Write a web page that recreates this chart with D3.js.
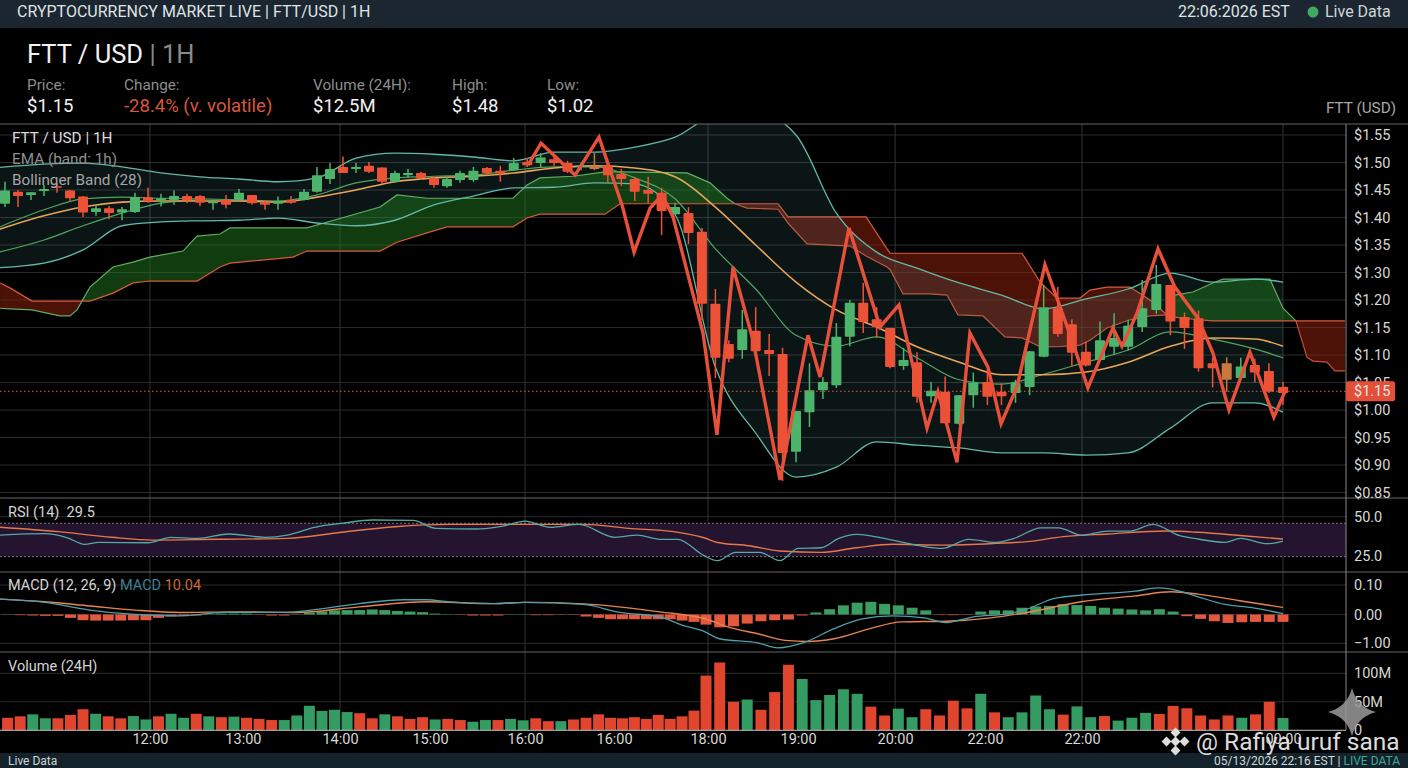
<!DOCTYPE html>
<html>
<head>
<meta charset="utf-8">
<title>FTT / USD</title>
<script src="https://cdn.jsdelivr.net/npm/d3@7"></script>
<style>
    html, body { margin: 0; padding: 0; background: #000; }
    svg { display: block; font-family: Roboto, sans-serif; }
    .axis path { display: none; }
    .axis line { display: none; }
    .axis text { fill: #d8d8d8; font-family: Roboto, sans-serif; font-size: 14.5px; }
</style>
</head>
<body>
<svg id="chart" width="1408" height="768"></svg>
<script>
// price axis skips 1.25, the labels are evenly spaced all the same
var priceTicks = [1.55, 1.50, 1.45, 1.40, 1.35, 1.30, 1.20, 1.15, 1.10, 1.05, 1.00, 0.95, 0.90, 0.85];
var rsiTicks = [50, 25];
var rsiBand = [45.8, 24.4];
var macdTicks = [0.10, 0, -1];
var volumeTicks = [100, 50, 0];
var timeLabels = ['12:00', '13:00', '14:00', '15:00', '16:00', '16:00', '18:00', '19:00', '20:00', '22:00', '22:00', '00:00'];
var timeSlots = [11.15, 18.3, 25.77, 32.69, 39.84, 46.46, 53.45, 60.15, 67.37, 73.83, 80.72, 95];
var gridSlots = [11.15, 25.77, 39.84, 53.45, 67.37, 80.72, 95];

var currentLevel = 1.034;
var currentLabel = '$1.15';

var candleOpens = [1.425, 1.447, 1.441, 1.448, 1.457, 1.449, 1.438, 1.410, 1.417, 1.409,
    1.410, 1.437, 1.431, 1.432, 1.439, 1.439, 1.426, 1.432, 1.432, 1.441,
    1.429, 1.425, 1.432, 1.432, 1.447, 1.470, 1.492, 1.488, 1.494, 1.491,
    1.465, 1.477, 1.481, 1.472, 1.457, 1.468, 1.468, 1.490, 1.485, 1.486,
    1.501, 1.499, 1.506, 1.499, 1.492, 1.494, 1.495, 1.479, 1.470, 1.450,
    1.445, 1.406, 1.408, 1.374, 1.193, 1.120, 1.109, 1.144, 1.109, 1.102,
    0.924, 0.996, 1.036, 1.045, 1.133, 1.195, 1.165, 1.149, 1.080, 1.087,
    1.025, 1.033, 0.975, 1.027, 1.051, 1.033, 1.031, 1.042, 1.097, 1.185,
    1.156, 1.106, 1.091, 1.115, 1.115, 1.151, 1.182, 1.255, 1.169, 1.167,
    1.085, 1.085, 1.058, 1.082, 1.071, 1.042];
var candleCloses = [1.449, 1.439, 1.446, 1.452, 1.454, 1.435, 1.409, 1.417, 1.408, 1.415,
    1.437, 1.429, 1.435, 1.439, 1.431, 1.427, 1.429, 1.423, 1.445, 1.426,
    1.423, 1.429, 1.427, 1.447, 1.477, 1.488, 1.481, 1.492, 1.483, 1.465,
    1.481, 1.481, 1.472, 1.459, 1.470, 1.481, 1.485, 1.481, 1.480, 1.499,
    1.495, 1.509, 1.499, 1.483, 1.495, 1.488, 1.477, 1.470, 1.447, 1.443,
    1.412, 1.419, 1.372, 1.193, 1.095, 1.093, 1.147, 1.107, 1.102, 0.922,
    0.998, 1.036, 1.051, 1.133, 1.195, 1.160, 1.151, 1.078, 1.091, 1.024,
    1.035, 0.976, 1.027, 1.050, 1.024, 1.025, 1.049, 1.107, 1.187, 1.138,
    1.104, 1.081, 1.127, 1.131, 1.153, 1.185, 1.258, 1.161, 1.149, 1.076,
    1.076, 1.055, 1.079, 1.068, 1.033, 1.031];
var candleHighs = [1.465, 1.450, 1.446, 1.459, 1.463, 1.450, 1.439, 1.423, 1.421, 1.419,
    1.445, 1.454, 1.443, 1.449, 1.443, 1.441, 1.432, 1.441, 1.452, 1.441,
    1.432, 1.438, 1.439, 1.452, 1.492, 1.499, 1.511, 1.499, 1.501, 1.491,
    1.485, 1.488, 1.483, 1.474, 1.474, 1.485, 1.492, 1.492, 1.494, 1.508,
    1.508, 1.517, 1.511, 1.503, 1.499, 1.517, 1.499, 1.488, 1.474, 1.474,
    1.454, 1.426, 1.419, 1.381, 1.240, 1.127, 1.182, 1.187, 1.138, 1.113,
    0.998, 1.085, 1.060, 1.158, 1.200, 1.262, 1.187, 1.149, 1.113, 1.105,
    1.051, 1.061, 1.027, 1.068, 1.073, 1.049, 1.055, 1.107, 1.255, 1.247,
    1.165, 1.124, 1.161, 1.176, 1.164, 1.273, 1.314, 1.255, 1.177, 1.181,
    1.095, 1.096, 1.095, 1.093, 1.085, 1.051];
var candleLows = [1.419, 1.419, 1.432, 1.439, 1.445, 1.429, 1.401, 1.403, 1.397, 1.395,
    1.408, 1.427, 1.420, 1.423, 1.426, 1.421, 1.414, 1.417, 1.431, 1.423,
    1.414, 1.414, 1.425, 1.431, 1.445, 1.461, 1.481, 1.481, 1.481, 1.461,
    1.463, 1.472, 1.468, 1.454, 1.454, 1.463, 1.465, 1.477, 1.465, 1.485,
    1.492, 1.492, 1.494, 1.481, 1.486, 1.486, 1.463, 1.457, 1.430, 1.426,
    1.368, 1.405, 1.352, 1.164, 1.058, 1.087, 1.093, 1.096, 1.062, 0.871,
    0.905, 0.969, 1.020, 1.040, 1.116, 1.140, 1.131, 1.076, 1.073, 1.013,
    1.013, 0.976, 0.973, 1.004, 1.009, 1.009, 1.013, 1.027, 1.096, 1.133,
    1.079, 1.079, 1.088, 1.100, 1.108, 1.142, 1.175, 1.136, 1.111, 1.070,
    1.041, 1.033, 1.056, 1.050, 1.031, 1.009];
var amberCandles = [45, 91];

// bollinger, ema and sma are read every third candle
var bandSlots = [-1, 3, 6, 9, 12, 15, 18, 21, 24, 27, 30, 33, 36, 39, 42, 45, 48, 51, 54, 57, 60, 63, 66, 69, 72, 75, 78, 81, 84, 87, 90, 93, 95];
var bandUpper = [1.490, 1.497, 1.499, 1.492, 1.481, 1.474, 1.470, 1.465, 1.472, 1.508, 1.517, 1.515, 1.510, 1.503, 1.519, 1.519, 1.528, 1.546, 1.586, 1.592, 1.550, 1.408, 1.337, 1.308, 1.262, 1.218, 1.184, 1.204, 1.240, 1.298, 1.265, 1.276, 1.265];
var bandLower = [1.308, 1.317, 1.341, 1.385, 1.392, 1.394, 1.395, 1.399, 1.390, 1.385, 1.395, 1.423, 1.439, 1.454, 1.455, 1.463, 1.461, 1.405, 1.078, 0.958, 0.878, 0.896, 0.942, 0.936, 0.931, 0.922, 0.922, 0.918, 0.922, 0.967, 1.013, 1.013, 0.996];
var emaLine = [1.374, 1.403, 1.419, 1.428, 1.430, 1.430, 1.430, 1.428, 1.437, 1.450, 1.465, 1.472, 1.475, 1.481, 1.490, 1.494, 1.490, 1.474, 1.419, 1.350, 1.265, 1.182, 1.151, 1.115, 1.087, 1.064, 1.064, 1.069, 1.087, 1.116, 1.131, 1.129, 1.116];
var smaUpper = [1.377, 1.414, 1.434, 1.437, 1.435, 1.434, 1.432, 1.430, 1.441, 1.463, 1.472, 1.475, 1.477, 1.486, 1.492, 1.492, 1.472, 1.434, 1.343, 1.240, 1.136, 1.116, 1.133, 1.095, 1.055, 1.047, 1.065, 1.087, 1.109, 1.142, 1.129, 1.111, 1.095];
var smaLower = [1.334, 1.359, 1.385, 1.408, 1.426, 1.432];

var cloudSlots = [-0.38, 0.38, 2.08, 4.23, 5, 5.54, 5.92, 6.54, 8.31, 9.85, 11.15, 13.69, 14.77, 16.54, 17.31, 22.15, 23.23, 26.77, 28.85, 30.15, 32.46, 34,
    38.94, 39.99, 40.95, 43.41, 45.79, 46.9, 51.89, 53.6, 54.87, 55.46, 56.35, 58.66, 59.4, 60.82, 64.02, 65.21, 66.77, 67, 67.96,
    69.92, 71.13, 71.91, 73.69, 75.25, 76.46, 77.74, 78.94, 80.58, 81.29, 82.49, 84.13, 85.55, 86.76, 87.32, 88.6, 90.02, 90.73, 94.07, 95, 95.92, 96.7, 97.13, 98.12, 98.69, 99.4];
var cloudSpanA = [1.185, 1.184, 1.182, 1.171, 1.171, 1.182, 1.198, 1.247, 1.310, 1.319, 1.328, 1.339, 1.366, 1.370, 1.381, 1.381, 1.381, 1.405, 1.419, 1.441, 1.435, 1.435,
    1.435, 1.459, 1.472, 1.475, 1.483, 1.483, 1.481, 1.463, 1.435, 1.425, 1.417, 1.415, 1.390, 1.352, 1.348, 1.330, 1.310, 1.305, 1.222,
    1.222, 1.218, 1.173, 1.171, 1.133, 1.131, 1.115, 1.115, 1.118, 1.127, 1.149, 1.164, 1.171, 1.173, 1.218, 1.229, 1.262, 1.276, 1.276, 1.185, 1.162, 1.096, 1.089, 1.087, 1.071, 1.071];
var cloudSpanB = [1.262, 1.244, 1.198, 1.198, 1.198, 1.198, 1.198, 1.198, 1.225, 1.262, 1.269, 1.269, 1.269, 1.310, 1.317, 1.328, 1.339, 1.339, 1.339, 1.355, 1.372, 1.383,
    1.383, 1.399, 1.406, 1.406, 1.406, 1.425, 1.425, 1.425, 1.425, 1.425, 1.425, 1.425, 1.401, 1.401, 1.401, 1.401, 1.343, 1.335, 1.335,
    1.335, 1.335, 1.335, 1.335, 1.335, 1.335, 1.265, 1.207, 1.207, 1.236, 1.247, 1.247, 1.200, 1.173, 1.169, 1.165, 1.162, 1.162, 1.162, 1.162, 1.162, 1.162, 1.162, 1.162, 1.162, 1.162];

var spikeSlots = [40.06, 41.03, 43.56, 45.34, 47.1, 47.95, 49.14, 50.03, 50.85, 53.08, 54.12, 55.31, 56.8, 58.81, 60.89, 61.79, 63.94, 66.25, 67.66, 69.71,
    70.49, 71.84, 72.76, 74.04, 74.97, 76.1, 78.09, 80.01, 81.14, 82.92, 83.56, 84.63, 86.12, 87.32, 88.96, 90.02, 91.16, 92.65, 94.35, 95.28];
var spikePrices = [1.495, 1.535, 1.477, 1.546, 1.419, 1.337, 1.417, 1.441, 1.401, 1.140, 0.955, 1.310, 1.127, 0.873, 1.136, 1.060, 1.381, 1.151, 1.191, 0.967,
    1.033, 0.905, 1.140, 1.078, 0.975, 1.042, 1.314, 1.127, 1.040, 1.149, 1.116, 1.176, 1.343, 1.247, 1.167, 1.104, 1.000, 1.105, 0.987, 1.042];

var rsiSlots = [-0.38, 3.07, 4.8, 6.11, 7.22, 11, 12.74, 14.8, 17.23, 20, 21.7, 23.8, 25.87, 28.28, 31.4, 33.13, 36.19, 38.2, 39.84, 41.7, 43.86, 46.53, 48.2, 49.87, 51.2, 53.15,
    54.16, 55.5, 57.3, 58.8, 60.15, 61.86, 63.18, 64.5, 67.19, 69.18, 70.78, 72.7, 74.6, 75.9, 77.8, 79.06, 80.65, 82.56, 84.17, 85.76, 87.68, 88.96, 90.88, 91.98, 93.9, 95];
var rsiValues = [38.2, 39.1, 36.5, 32.3, 33.5, 33.3, 36.8, 36.1, 38.9, 36.8, 38.2, 43.2, 45.7, 47.9, 47.6, 42.5, 42.1, 44, 47.2, 43.2, 45.1, 36.8, 38.2, 35.5, 35.5, 25,
    21.8, 27.1, 27.1, 21.8, 29.7, 30.1, 36.1, 38.7, 35, 31.4, 29.7, 35.5, 33.5, 36.1, 42.9, 42.9, 38.2, 40.8, 40.8, 45.1, 37.8, 35.7, 33.5, 36.1, 32.7, 34.4];
var rsiSignalSlots = [-0.38, 4.1, 8.2, 11.36, 16.2, 21.7, 25.87, 30, 34.15, 40.9, 44.2, 47.55, 50.9, 53.15,
    54.16, 56.5, 58.8, 61.86, 64.5, 67.19, 70.78, 74.6, 76.8, 79.4, 82.56, 86.72, 88.96, 92.15, 95];
var rsiSignal = [43.2, 40.4, 36.8, 35, 35.5, 36.1, 40, 43.6, 45.1, 45.1, 45.1, 42.5, 40.4, 36.5,
    33.5, 31.4, 28, 27.1, 30.1, 32.3, 31.8, 32.9, 34, 37.2, 38.9, 40.8, 40, 37.8, 35.7];

var macdSlots = [-0.38, 3.07, 6.52, 9.98, 13.43, 16.88, 21.7, 24.47, 27.25, 30.7, 32.43, 34.15, 37.53, 39.84, 44.2, 46.88, 49.87, 51.56, 53.15,
    54.3, 57.16, 58.65, 60.67, 62.83, 64.84, 67.19, 69.5, 71.1, 73, 75.5, 76.8, 78.7, 81.3, 84.5, 86.1, 87.05, 88.96, 90.88, 92.8, 95];
var macdValues = [0.052, 0.041, 0.015, 0, -0.047, 0.007, 0.007, 0.020, 0.037, 0.050, 0.050, 0.043, 0.037, 0.041, 0.034, 0.007, -0.082, -0.374, -0.585,
    -0.842, -0.983, -1.158, -0.959, -0.491, -0.164, -0.047, -0.117, -0.281, -0.082, 0.003, 0.018, 0.054, 0.068, 0.079, 0.090, 0.086, 0.060, 0.034, 0.023, 0.003];
var macdSignalSlots = [-0.38, 3.07, 6.52, 9.98, 13.43, 17.58, 22.4, 27.25, 32.43, 37.53, 39.84, 44.2, 49.87, 53.15,
    55.1, 57.16, 59.2, 60.9, 62.83, 65.5, 67.85, 71.1, 74.25, 76.8, 80.65, 84.5, 87.05, 88.96, 92.15, 95];
var macdSignal = [0.052, 0.043, 0.029, 0.015, 0.007, 0.009, 0.007, 0.026, 0.043, 0.037, 0.041, 0.036, 0.009, -0.14,
    -0.456, -0.667, -0.90, -0.936, -0.842, -0.491, -0.257, -0.234, -0.117, 0.007, 0.043, 0.063, 0.077, 0.069, 0.045, 0.024];
var macdHist = [0.001, -0.023, -0.035, -0.047, -0.047, -0.117, -0.199, -0.211, -0.211, -0.211, -0.199, -0.199, -0.117, -0.07, -0.058, -0.035,
    0.001, 0.003, 0.003, 0.003, -0.012, -0.035, -0.035, 0.001, 0.006, 0.010, 0.014, 0.015, 0.015, 0.017, 0.015, 0.012,
    0.010, 0.008, 0.003, 0.001, -0.012, -0.035, -0.035, -0.035, 0.001, 0.001, -0.023, -0.023, -0.012, -0.012, -0.07, -0.117,
    -0.164, -0.164, -0.164, -0.164, -0.164, -0.164, -0.211, -0.257,
    -0.351, -0.445, -0.41, -0.316, -0.234, -0.199, -0.175, -0.035, 0.007, 0.018, 0.031, 0.040, 0.043, 0.036, 0.031, 0.023, 0.014,
    -0.012, -0.023, -0.012, 0.010, 0.014, 0.014, 0.023, 0.027, 0.029, 0.035, 0.032, 0.029, 0.023, 0.020, 0.017, 0.014, 0.018, 0.010,
    -0.058, -0.152, -0.234, -0.292, -0.269, -0.257, -0.257, -0.257];

var volumeValues = [22, 24.5, 28, 21, 21, 27, 37, 29, 24.5, 21, 25, 19, 24.5, 29, 22, 29, 24.5, 23, 24, 22, 20, 18, 18, 26, 43, 34, 36, 32, 30, 21, 28, 24.5,
    20, 23, 19, 20, 18, 15, 18, 18, 20, 17.5, 21, 16, 16, 19, 22, 28, 22, 21, 23, 20, 27, 20, 24.5, 34.5,
    96, 119, 50, 54, 36, 67, 115, 90, 53, 62, 72, 64, 41.5, 26, 38, 23, 37, 26, 52, 38.5, 64, 31.5, 23, 31.5, 61, 37, 27.5, 42, 23, 25, 17, 22, 30.5, 28.6, 42.7, 38.6, 26, 19, 26, 22, 28, 50, 21.6];
var volumeUp = [0, 0, 1, 1, 0, 0, 0, 1, 0, 0, 1, 1, 0, 1, 1, 0, 1, 0, 1, 0, 0, 0, 1, 1, 1, 1, 1, 1, 0, 0, 1, 0,
    0, 0, 1, 0, 0, 1, 1, 0, 1, 1, 0, 0, 1, 0, 0, 0, 0, 0, 0, 0, 0, 0, 0, 0,
    0, 0, 0, 1, 0, 0, 0, 1, 1, 1, 1, 1, 0, 0, 1, 1, 0, 0, 0, 0, 1, 0, 1, 1, 1, 1, 0, 1, 1, 0, 1, 1, 1, 0, 0, 0, 0, 0, 0, 1, 0, 0, 1];

var GREEN = '#4cb56b', RED = '#ee5236', AMBER = '#c9793f';
var WIDTH = 1408, AXIS_X = 1346;

var svg = d3.select('#chart');

// candles are not evenly spaced across the picture, hence the piecewise scales
var x = d3.scaleLinear().domain([0, 35, 69, 95]).range([5, 460, 917, 1283]);
var barX = d3.scaleLinear().domain([0, 47, 55, 56, 98]).range([7.6, 598.6, 694, 706, 1283]);

var y = d3.scaleLinear().domain(priceTicks).range(priceTicks.map(function (d, i) { return 135 + i * 27.5; }));
var rsiY = d3.scaleLinear().domain(rsiTicks).range([516.7, 555.7]);
var macdY = d3.scaleLinear().domain(macdTicks).range([585, 614.5, 643.3]);
var volY = d3.scaleLinear().domain([0, 100]).range([730.3, 673.3]);

/**
 * @param {number[]} slots
 * @param {number[]} values
 * @returns {Array}
 */
function zipPoints(slots, values) {
    return slots.map(function (s, i) { return {slot: s, value: values[i]}; });
}

function addText(parent, str, px, py, size, color, anchor) {
    return parent.append('text')
        .attr('x', px)
        .attr('y', py)
        .attr('font-size', size)
        .attr('fill', color)
        .attr('text-anchor', anchor || 'start')
        .text(str);
}

function drawLine(parent, slots, values, scale, color, width, curve) {
    var line = d3.line()
        .x(function (d) { return x(d.slot); })
        .y(function (d) { return scale(d.value); })
        .curve(curve || d3.curveMonotoneX);
    return parent.append('path')
        .datum(zipPoints(slots, values))
        .attr('d', line)
        .attr('fill', 'none')
        .attr('stroke', color)
        .attr('stroke-width', width);
}

function clipRect(id, top, bottom) {
    svg.append('clipPath').attr('id', id).append('rect')
        .attr('x', 0).attr('y', top).attr('width', AXIS_X).attr('height', bottom - top);
}

clipRect('clip-price', 124, 498);
clipRect('clip-rsi', 499, 572);
clipRect('clip-macd', 573, 652);

// --- grid ---
var grid = svg.append('g');
function hGrid(values, scale) {
    grid.selectAll(null).data(values).enter().append('line')
        .attr('x1', 0).attr('x2', AXIS_X)
        .attr('y1', function (d) { return scale(d); })
        .attr('y2', function (d) { return scale(d); })
        .attr('stroke', '#2b2b2b');
}
hGrid(priceTicks, y);
hGrid(rsiTicks, rsiY);
hGrid(macdTicks, macdY);
hGrid(volumeTicks, volY);

grid.selectAll(null).data(gridSlots).enter().append('line')
    .attr('x1', function (d) { return x(d); })
    .attr('x2', function (d) { return x(d); })
    .attr('y1', 124).attr('y2', 730)
    .attr('stroke', '#333');

// --- price panel ---
var price = svg.append('g').attr('clip-path', 'url(#clip-price)');

// split the cloud into runs by which span is on top, the crossing point goes in both
var cloudPts = cloudSlots.map(function (s, i) { return {slot: s, a: cloudSpanA[i], b: cloudSpanB[i]}; });
var runs = [], run = [];
cloudPts.forEach(function (p) {
    run.push(p);
    if (p.a === p.b) {
        runs.push(run);
        run = [p];
    }
});
runs.push(run);

function isBull(pts) {
    var mid = pts[Math.floor(pts.length / 2)];
    return mid.a > mid.b;
}

function drawCloudRun(pts) {
    var bull = isBull(pts);
    price.append('path').datum(pts)
        .attr('d', d3.area()
            .x(function (d) { return x(d.slot); })
            .y0(function (d) { return y(d.a); })
            .y1(function (d) { return y(d.b); }))
        .attr('fill', bull ? 'rgb(30,115,30)' : 'rgb(145,35,15)')
        .attr('fill-opacity', 0.52);
    price.append('path').datum(pts)
        .attr('d', d3.line().x(function (d) { return x(d.slot); }).y(function (d) { return y(d.a); }))
        .attr('fill', 'none')
        .attr('stroke', bull || pts === runs[0] ? '#5fae62' : '#c94f33')
        .attr('stroke-width', 1.2);
    price.append('path').datum(pts)
        .attr('d', d3.line().x(function (d) { return x(d.slot); }).y(function (d) { return y(d.b); }))
        .attr('fill', 'none')
        .attr('stroke', '#d8593a')
        .attr('stroke-width', 1.2);
}

// red cloud goes under the band, green over it, that is how the colours mix in the picture
runs.filter(function (r) { return !isBull(r); }).forEach(drawCloudRun);

var bandPts = bandSlots.map(function (s, i) { return {slot: s, hi: bandUpper[i], lo: bandLower[i]}; });
price.append('path').datum(bandPts)
    .attr('d', d3.area()
        .x(function (d) { return x(d.slot); })
        .y0(function (d) { return y(d.hi); })
        .y1(function (d) { return y(d.lo); })
        .curve(d3.curveMonotoneX))
    .attr('fill', 'rgb(90,160,170)')
    .attr('fill-opacity', 0.13);

runs.filter(isBull).forEach(drawCloudRun);

drawLine(price, bandSlots, bandUpper, y, '#63b8a6', 1.3);
drawLine(price, bandSlots, bandLower, y, '#63b8a6', 1.3);
drawLine(price, bandSlots, smaUpper, y, '#4fa55f', 1.2);
drawLine(price, bandSlots.slice(0, smaLower.length), smaLower, y, '#4fa55f', 1.2);
drawLine(price, bandSlots, emaLine, y, '#e9a45a', 1.6);

// current price line
svg.append('line')
    .attr('x1', 0).attr('x2', AXIS_X)
    .attr('y1', y(currentLevel)).attr('y2', y(currentLevel))
    .attr('stroke', '#e0563a')
    .attr('stroke-dasharray', '1.5 2.5');

// candles
var candleData = candleOpens.map(function (o, i) {
    return {i: i, open: o, close: candleCloses[i], high: candleHighs[i], low: candleLows[i]};
});
function candleColor(d) {
    if (amberCandles.indexOf(d.i) >= 0) return AMBER;
    return d.close >= d.open ? GREEN : RED;
}
var candles = price.selectAll('g.candle').data(candleData).enter().append('g').attr('class', 'candle');
candles.append('line')
    .attr('x1', function (d) { return x(d.i); })
    .attr('x2', function (d) { return x(d.i); })
    .attr('y1', function (d) { return y(d.high); })
    .attr('y2', function (d) { return y(d.low); })
    .attr('stroke', candleColor)
    .attr('stroke-width', 1.5);
candles.append('rect')
    .attr('x', function (d) { return x(d.i) - 5; })
    .attr('width', 10)
    .attr('y', function (d) { return y(Math.max(d.open, d.close)); })
    .attr('height', function (d) { return Math.max(1.5, Math.abs(y(d.open) - y(d.close))); })
    .attr('rx', 0.8)
    .attr('fill', candleColor);

// the thick zigzag
drawLine(price, spikeSlots, spikePrices, y, '#e8503a', 3.4, d3.curveLinear)
    .attr('stroke-linejoin', 'miter');

// --- rsi panel ---
var rsi = svg.append('g').attr('clip-path', 'url(#clip-rsi)');
rsi.append('rect')
    .attr('x', 0).attr('width', AXIS_X)
    .attr('y', rsiY(rsiBand[0]))
    .attr('height', rsiY(rsiBand[1]) - rsiY(rsiBand[0]))
    .attr('fill', '#24142f');
rsi.selectAll(null).data(rsiBand).enter().append('line')
    .attr('x1', 0).attr('x2', AXIS_X)
    .attr('y1', function (d) { return rsiY(d); })
    .attr('y2', function (d) { return rsiY(d); })
    .attr('stroke', '#777')
    .attr('stroke-dasharray', '2 2');
drawLine(rsi, rsiSignalSlots, rsiSignal, rsiY, '#e5794a', 1.4);
drawLine(rsi, rsiSlots, rsiValues, rsiY, '#54a8a6', 1.3);

// --- macd panel ---
var macd = svg.append('g').attr('clip-path', 'url(#clip-macd)');
macd.selectAll('rect').data(macdHist).enter().append('rect')
    .attr('x', function (d, i) { return barX(i) - 5.5; })
    .attr('width', 11)
    .attr('y', function (d) { return macdY(Math.max(d, 0)); })
    .attr('height', function (d) { return Math.abs(macdY(d) - macdY(0)); })
    .attr('fill', function (d) { return d >= 0 ? '#3a9e63' : '#e4583e'; });
drawLine(macd, macdSignalSlots, macdSignal, macdY, '#e5854f', 1.4);
drawLine(macd, macdSlots, macdValues, macdY, '#4f9fac', 1.3);

// --- volume panel ---
svg.append('g').selectAll('rect').data(volumeValues).enter().append('rect')
    .attr('x', function (d, i) { return barX(i) - 5.5; })
    .attr('width', 11)
    .attr('y', function (d) { return volY(d); })
    .attr('height', function (d) { return volY(0) - volY(d); })
    .attr('fill', function (d, i) { return volumeUp[i] ? '#349b62' : '#e0452e'; });

// --- separators ---
svg.append('g').selectAll('line').data([124, 498, 572, 652]).enter().append('line')
    .attr('x1', 0).attr('x2', WIDTH)
    .attr('y1', function (d) { return d; })
    .attr('y2', function (d) { return d; })
    .attr('stroke', '#666')
    .attr('stroke-width', 1.2);
svg.append('line').attr('x1', 0).attr('x2', AXIS_X).attr('y1', volY(0)).attr('y2', volY(0))
    .attr('stroke', '#bbb').attr('stroke-width', 1);
svg.append('line').attr('x1', AXIS_X).attr('x2', AXIS_X).attr('y1', 124).attr('y2', 730)
    .attr('stroke', '#888');

// --- axes ---
svg.append('g').attr('class', 'axis').attr('transform', 'translate(' + (AXIS_X + 1) + ',0)')
    .call(d3.axisRight(y).tickValues(priceTicks).tickSize(0).tickPadding(7)
        .tickFormat(function (d) { return '$' + d.toFixed(2); }));
svg.append('g').attr('class', 'axis').attr('transform', 'translate(' + (AXIS_X + 1) + ',0)')
    .call(d3.axisRight(rsiY).tickValues(rsiTicks).tickSize(0).tickPadding(7).tickFormat(d3.format('.1f')));
svg.append('g').attr('class', 'axis').attr('transform', 'translate(' + (AXIS_X + 1) + ',0)')
    .call(d3.axisRight(macdY).tickValues(macdTicks).tickSize(0).tickPadding(7).tickFormat(d3.format('.2f')));
svg.append('g').attr('class', 'axis').attr('transform', 'translate(' + (AXIS_X + 1) + ',0)')
    .call(d3.axisRight(volY).tickValues(volumeTicks).tickSize(0).tickPadding(7)
        .tickFormat(function (d) { return d === 0 ? '0' : d + 'M'; }));
svg.append('g').attr('class', 'axis').attr('transform', 'translate(0,734)')
    .call(d3.axisBottom(x).tickValues(timeSlots).tickSize(0).tickPadding(0)
        .tickFormat(function (d) { return timeLabels[timeSlots.indexOf(d)]; }));

// price tag sits above the axis labels
svg.append('rect')
    .attr('x', AXIS_X).attr('y', y(currentLevel) - 10)
    .attr('width', 49).attr('height', 20).attr('rx', 2)
    .attr('fill', '#e2503a');
addText(svg, currentLabel, AXIS_X + 8, y(currentLevel) + 5, 14.5, '#f2e6e2');

// --- header ---
svg.append('rect').attr('x', 0).attr('y', 0).attr('width', WIDTH).attr('height', 28).attr('fill', '#1c2630');
addText(svg, 'CRYPTOCURRENCY MARKET LIVE | FTT/USD | 1H', 17, 17, 16, '#dfe3e6');
addText(svg, '22:06:2026 EST', 1178, 17, 16, '#dfe3e6');
svg.append('circle').attr('cx', 1313).attr('cy', 12).attr('r', 5.5).attr('fill', '#3fa95f');
addText(svg, 'Live Data', 1325, 17, 16, '#cfd6d8');

var title = addText(svg, 'FTT / USD', 27, 63, 25.5, '#f2f2f2');
title.append('tspan').attr('fill', '#8a8a8a').text(' | 1H');

var statLabels = ['Price:', 'Change:', 'Volume (24H):', 'High:', 'Low:'];
var statValues = ['$1.15', '-28.4% (v. volatile)', '$12.5M', '$1.48', '$1.02'];
var statX = [27, 124, 313, 452, 547];
statLabels.forEach(function (label, i) {
    addText(svg, label, statX[i], 90, 15.3, '#8d8d8d');
    addText(svg, statValues[i], statX[i], 112, 18.5, i === 1 ? '#d9573a' : '#f2f2f2');
});
addText(svg, 'FTT (USD)', 1396, 113, 15.3, '#a8a8a8', 'end');

// --- panel captions ---
addText(svg, 'FTT / USD | 1H', 12, 143, 15.3, '#dcdcdc');
addText(svg, 'EMA (band: 1h)', 12, 164, 15.3, '#8f8f8f');
addText(svg, 'Bollinger Band (28)', 12, 185, 15.3, '#a5a5a5');
addText(svg, 'RSI (14)  29.5', 8, 517, 14.5, '#d5d5d5').attr('xml:space', 'preserve');
var macdCaption = addText(svg, 'MACD (12, 26, 9) ', 8, 590, 14.5, '#d5d5d5');
macdCaption.append('tspan').attr('fill', '#3f7f96').text('MACD ');
macdCaption.append('tspan').attr('fill', '#c96a35').text(' 10.04');
addText(svg, 'Volume (24H)', 8, 671, 14.5, '#d5d5d5');

// --- footer ---
svg.append('rect').attr('x', 0).attr('y', 753).attr('width', WIDTH).attr('height', 15).attr('fill', '#14232b');
addText(svg, 'Live Data', 8, 765.3, 12, '#cfd6d8');
var footer = addText(svg, '05/13/2026 22:16 EST | ', 1400, 765.3, 12, '#cfd6d8', 'end');
footer.append('tspan').attr('fill', '#3fa89a').text('LIVE DATA');

// --- watermark ---
var mark = svg.append('g');
var sx = 1352, sy = 712, sr = 24, sc = 5;
mark.append('path')
    .attr('d', 'M' + sx + ',' + (sy - sr) + 'Q' + (sx + sc) + ',' + (sy - sc) + ' ' + (sx + sr) + ',' + sy
        + 'Q' + (sx + sc) + ',' + (sy + sc) + ' ' + sx + ',' + (sy + sr)
        + 'Q' + (sx - sc) + ',' + (sy + sc) + ' ' + (sx - sr) + ',' + sy
        + 'Q' + (sx - sc) + ',' + (sy - sc) + ' ' + sx + ',' + (sy - sr) + 'Z')
    .attr('fill', '#9a9a9a')
    .attr('fill-opacity', 0.85);
[[0, -9], [9, 0], [0, 9], [-9, 0], [0, 0]].forEach(function (o) {
    mark.append('rect')
        .attr('x', -3.5).attr('y', -3.5).attr('width', 7).attr('height', 7)
        .attr('transform', 'translate(' + (1175.5 + o[0]) + ',' + (741.5 + o[1]) + ') rotate(45)')
        .attr('fill', '#dedede');
});
addText(svg, '@ Rafiya uruf sana', 1196, 750, 24.5, '#dcdcdc');
</script>
</body>
</html>
